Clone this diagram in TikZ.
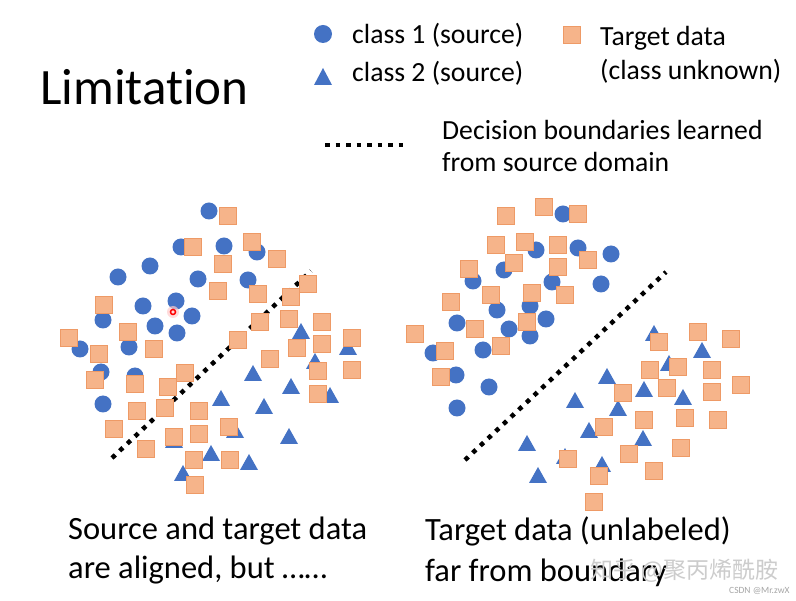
\documentclass[tikz,border=0pt]{standalone}
\usepackage{fontspec}
\setmainfont[Ligatures=NoCommon]{Carlito}
\newfontfamily\cjk{Noto Sans CJK SC}
\definecolor{srcblue}{HTML}{4472C4}
\definecolor{tgtfill}{HTML}{F6B48A}
\definecolor{tgtline}{HTML}{EE9A66}
\tikzset{
  cls1/.style={fill=srcblue},
  cls2/.style={fill=srcblue},
  tgt/.style={fill=tgtfill, draw=tgtline, line width=0.8pt},
  bound/.style={line width=4.5pt, dash pattern=on 4.5pt off 6pt},
  lbl/.style={anchor=base west, inner sep=0pt, font=\fontsize{27.7}{30}\selectfont},
  note/.style={anchor=base west, inner sep=0pt, font=\fontsize{32.5}{36}\selectfont},
}
\begin{document}
\begin{tikzpicture}[x=1pt,y=-1pt]
        \useasboundingbox[fill=white] (0,0) rectangle (796,601);

        % 标题
        \node[anchor=base west, inner sep=0pt, font=\fontsize{51}{60}\selectfont] (title) at (40,105) {Limitation};

        % 图例
        \fill[cls1] (323,34) circle (9pt);
        \fill[cls2] (323,68) -- (332,85) -- (314,85) -- cycle;
        \filldraw[tgt] (563.5,26.5) rectangle (580.5,43.5);
        \coordinate (lg1) at (325,145);
        \coordinate (lg2) at (405,145);
        \draw[bound] (lg1) -- (lg2);
        \node[lbl] (c1) at (352,44) {class 1 (source)};
        \node[lbl] (c2) at (352,82) {class 2 (source)};
        \node[lbl] (t1) at (600,46) {Target data};
        \node[lbl] (t2) at (600,80) {(class unknown)};
        \node[lbl] (d1) at (442,140) {Decision boundaries learned};
        \node[lbl] (d2) at (442,172) {from source domain};

        % 左图
        \foreach \x/\y in {209/211,181/247,224/246,257/252,150/266,118/277,198/279,248/280,176/301,143/306,
                           103/320,192/316,155/326,177/333,80/349,129/347,101/372,103/404,135/376}
          \fill[cls1] (\x,\y) circle (8.5pt);
        \foreach \x/\y in {301/332,348/348,315/362,253/374,291/387,221/399,264/407,330/396,235/431,289/437,
                           174/441,211/454,249/463,183/474}
          \fill[cls2] (\x,\y-9) -- (\x+9,\y+7) -- (\x-9,\y+7) -- cycle;
        \coordinate (la) at (112,458);
        \coordinate (lb) at (311,271);
        \draw[bound] (la) -- (lb);
        \foreach \x/\y in {228/216,193/247,252/242,277/259,223/264,218/291,258/294,308/284,291/297,104/305,
                           128/332,289/319,260/322,322/322,69/338,154/349,99/354,238/340,297/348,322/344,
                           352/338,270/359,185/373,95/380,135/384,168/387,318/371,352/370,318/394,137/411,
                           165/408,199/411,114/429,229/427,199/434,174/437,146/449,194/460,230/460,195/485}
          \filldraw[tgt] (\x-8.5,\y-8.5) rectangle (\x+8.5,\y+8.5);
        \fill[red!20, opacity=0.7] (173,312) circle (6pt);
        \draw[red, line width=1.5pt] (173,312) circle (2.5pt);

        % 右图
        \foreach \x/\y in {563/214,536/250,578/248,611/254,504/270,473/281,552/282,601/284,497/310,530/306,
                           457/323,546/319,509/329,530/336,433/353,483/350,456/375,489/387,457/408}
          \fill[cls1] (\x,\y) circle (8.5pt);
        \foreach \x/\y in {654/334,702/351,669/364,607/377,644/390,683/398,575/401,618/409,589/431,643/439,
                           527/444,565/457,602/465,538/476}
          \fill[cls2] (\x,\y-9) -- (\x+9,\y+7) -- (\x-9,\y+7) -- cycle;
        \coordinate (ra) at (465,460);
        \coordinate (rb) at (666,272);
        \draw[bound] (ra) -- (rb);
        \foreach \x/\y in {506/216,544/207,578/214,496/245,525/242,558/245,514/263,588/260,469/269,558/267,
                           491/295,532/293,565/295,451/302,475/329,527/322,415/334,445/351,501/346,441/377,
                           698/332,731/339,659/342,650/370,678/367,712/370,623/393,667/388,712/392,741/385,
                           644/420,685/418,718/420,604/427,681/448,629/454,568/459,654/471,599/476,594/502}
          \filldraw[tgt] (\x-8.5,\y-8.5) rectangle (\x+8.5,\y+8.5);

        % 说明
        \node[note] (s1) at (68,540) {Source and target data};
        \node[note] (s2) at (68,579) {are aligned, but ……};
        \node[note] (r1) at (425,541) {Target data (unlabeled)};
        \node[note] (r2) at (425,582) {far from boundary};

        % 水印
        \node[anchor=base west, inner sep=0pt, text=gray!40, font=\cjk\fontsize{23}{26}\selectfont] (wm) at (590,579) {知乎 @聚丙烯酰胺};
        \node[anchor=base west, inner sep=0pt, text=gray!70, font=\fontsize{9.5}{11}\selectfont] (wm2) at (729,594) {CSDN @Mr.zwX};
    \end{tikzpicture}
\end{document}
